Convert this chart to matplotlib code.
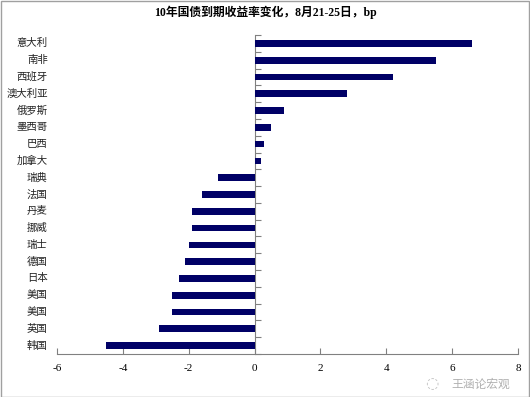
import numpy as np
import matplotlib.pyplot as plt
from matplotlib.transforms import blended_transform_factory

countries = ["意大利", "南非", "西班牙", "澳大利亚", "俄罗斯", "墨西哥", "巴西", "加拿大",
             "瑞典", "法国", "丹麦", "挪威", "瑞士", "德国", "日本", "美国", "美国", "英国", "韩国"]
change_bp = [6.6, 5.5, 4.2, 2.8, 0.9, 0.5, 0.3, 0.2,
             -1.1, -1.6, -1.9, -1.9, -2.0, -2.1, -2.3, -2.5, -2.5, -2.9, -4.5]
x_ticks = [-6, -4, -2, 0, 2, 4, 6, 8]

cjk = ["Noto Sans CJK SC", "DejaVu Sans"]
serif = ["Liberation Serif", "Noto Sans CJK SC"]
gray = "#808080"
navy = "#000066"

fig = plt.figure(figsize=(5.3, 3.97), dpi=100)
ax = fig.add_axes([57 / 530, 1 - 354 / 397, (518 - 57) / 530, (354 - 35) / 397])

y = np.arange(len(countries))
ax.barh(y, change_bp, height=0.4, color=navy, zorder=3)

ax.set_xlim(-6, 8)
ax.set_ylim(len(countries) - 0.5, -0.5)

# x axis
ax.set_xticks(x_ticks)
ax.set_xticklabels([str(v) for v in x_ticks], family=serif, fontsize=8)
ax.tick_params(axis="x", direction="in", length=4, color=gray, pad=7)
for s in ["top", "right"]:
    ax.spines[s].set_visible(False)
ax.spines["bottom"].set_color(gray)

# category axis sits at zero
ax.spines["left"].set_position(("data", 0))
ax.spines["left"].set_color(gray)
ax.set_yticks(np.arange(len(countries) + 1) - 0.5)
ax.set_yticklabels([])
ax.tick_params(axis="y", direction="in", length=4, color=gray)

trans = blended_transform_factory(ax.transAxes, ax.transData)
for i, name in enumerate(countries):
    ax.text(-0.02, i, name, transform=trans, ha="right", va="center",
            family=cjk, fontsize=7.5, color="#222222")

fig.text(0.5, 1 - 12 / 397, "10年国债到期收益率变化，8月21-25日，bp",
         ha="center", va="center", family=serif, fontsize=8.5, fontweight="bold")

# watermark
fig.text(510 / 530, 1 - 384 / 397, "王涵论宏观", ha="right", va="center",
         family=cjk, fontsize=8.5, color="#b0b0b0")
fig.text(432 / 530, 1 - 384 / 397, "◌", ha="center", va="center",
         family=["DejaVu Sans"], fontsize=11, color="#c0c0c0")

# outer frame
fig.patches.append(plt.Rectangle((0.001, 0.001), 0.997, 0.997, transform=fig.transFigure,
                                 fill=False, edgecolor="#a0a0a0", linewidth=1))

fig.savefig("out.png", dpi=100)
